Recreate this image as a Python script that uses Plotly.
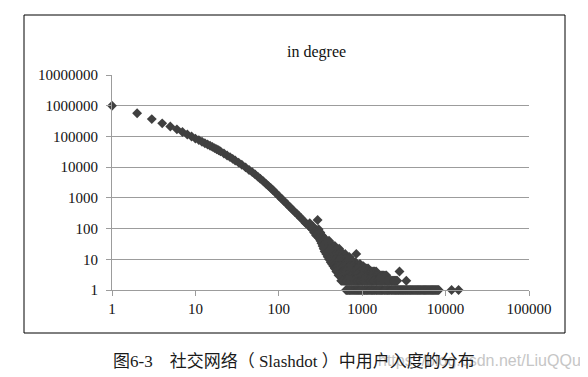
import plotly.graph_objects as go

# ---- data ----
main_k = [1, 2, 3, 4, 5, 6, 7, 8, 9, 10, 11, 12, 13, 14, 15, 16, 17, 18, 19, 20,
          22, 24, 26, 28, 30, 33, 36, 40, 44, 48, 52, 56, 60, 65, 70, 75, 80, 86, 92, 100,
          108, 116, 125, 135, 145, 155, 165, 175, 185, 200]
main_c = [1000000, 570000, 366000, 267000, 210000, 170000, 140000, 116000, 99000, 85000,
          76000, 67000, 60000, 54500, 49800, 45500, 41600, 38300, 35500, 32500,
          27900, 24000, 21200, 18600, 16500, 14000, 12000, 9800, 8100, 6900,
          5800, 4900, 4200, 3500, 2900, 2450, 2100, 1730, 1450, 1150,
          935, 770, 630, 510, 420, 350, 300, 255, 218, 177]

tail_counts = [150, 120, 95, 75, 60, 50, 40, 33, 27, 22, 18, 15, 12, 10, 8, 7, 6, 5, 4, 3, 2, 1]
tail_k_rows = [
    [210, 235],
    [230, 255],
    [250, 275, 300],
    [265, 290, 315],
    [280, 305, 330],
    [300, 325, 350],
    [315, 340, 370, 400],
    [325, 355, 385, 420],
    [335, 365, 400, 435, 470],
    [345, 375, 410, 450, 490, 530],
    [355, 390, 425, 465, 510, 555],
    [370, 405, 440, 480, 525, 575, 625],
    [385, 420, 460, 500, 545, 595, 650, 700],
    [400, 440, 480, 525, 575, 625, 680, 740],
    [420, 460, 500, 545, 595, 650, 710, 770, 830],
    [435, 475, 520, 565, 615, 670, 730, 790, 860, 940],
    [450, 470, 490, 510, 530, 555, 575, 600, 625, 650, 675, 700, 730, 760, 790, 820, 850,
     885, 920, 955, 990, 1030],
    [470, 490, 510, 535, 555, 575, 600, 625, 650, 675, 700, 725, 755, 785, 815, 845, 875,
     910, 945, 980, 1020, 1060, 1100, 1140, 1180],
    [490, 510, 530, 550, 570, 590, 615, 640, 660, 685, 710, 740, 765, 795, 825, 855, 885,
     920, 950, 985, 1020, 1060, 1100, 1140, 1180, 1220, 1270, 1310, 1360, 1410, 1470],
    [520, 540, 560, 580, 600, 620, 645, 665, 690, 710, 735, 760, 790, 815, 845, 875, 905,
     935, 970, 1000, 1040, 1075, 1110, 1150, 1190, 1230, 1280, 1320, 1370, 1420, 1470,
     1520, 1570, 1630, 1690, 1750, 1810, 1880, 1950],
    [560, 575, 590, 605, 620, 635, 650, 670, 685, 700, 720, 740, 755, 775, 795, 815, 835,
     855, 880, 900, 925, 950, 975, 1000, 1025, 1050, 1080, 1110, 1140, 1170, 1200, 1230,
     1260, 1290, 1320, 1360, 1390, 1430, 1470, 1500, 1540, 1580, 1620, 1660, 1700, 1750,
     1790, 1840, 1890, 1940, 1990, 2040, 2090, 2140, 2200, 2260, 2320, 2380, 2440, 2500,
     2560, 2630],
    [640, 655, 670, 690, 705, 720, 740, 760, 780, 800, 820, 840, 860, 880, 905, 925, 950,
     975, 1000, 1020, 1050, 1070, 1100, 1130, 1150, 1180, 1210, 1240, 1270, 1300, 1330,
     1360, 1400, 1430, 1470, 1500, 1540, 1580, 1620, 1660, 1700, 1740, 1780, 1830, 1870,
     1920, 1970, 2010, 2060, 2110, 2160, 2220, 2270, 2330, 2390, 2450, 2510, 2570, 2630,
     2700, 2760, 2830, 2900, 2970, 3050, 3120, 3200, 3280, 3360, 3440, 3520, 3610, 3700,
     3790, 3880, 3980, 4080, 4180, 4280, 4390, 4500, 4610, 4720, 4840, 4960, 5080, 5210,
     5340, 5470, 5600, 5740, 5880, 6030, 6180, 6330, 6490, 6650, 6810, 6980, 7150, 7330,
     7510, 7700, 7890, 8080, 8280, 11800, 14300],
]
outlier_k = [292, 850, 2800, 3380]
outlier_c = [190, 15, 4, 2]

x_tick_vals = [1, 10, 100, 1000, 10000, 100000]
x_tick_text = ["1", "10", "100", "1000", "10000", "100000"]
y_tick_vals = [1, 10, 100, 1000, 10000, 100000, 1000000, 10000000]
y_tick_text = ["1", "10", "100", "1000", "10000", "100000", "1000000", "10000000"]

chart_title = "in degree"
caption = "图6-3\u3000社交网络（ Slashdot ）中用户入度的分布"
watermark = "https://blog.csdn.net/LiuQQu"

# ---- assemble ----
xs = list(main_k)
ys = list(main_c)
for cnt, row in zip(tail_counts, tail_k_rows):
    xs.extend(row)
    ys.extend([cnt] * len(row))
xs.extend(outlier_k)
ys.extend(outlier_c)

OFF = 8                      # page body margin added by the browser
W, H = 588 - OFF, 377 - OFF  # figure size
L, R, T, B = 112 - OFF, 529 - OFF, 75 - OFF, 290 - OFF  # plot area (figure px)


def px_x(px):
    return (px - OFF - L) / (R - L)


def px_y(py):
    return (B - (py - OFF)) / (B - T)


AX = "#9c9c9c"
SERIF = "Liberation Serif, Times New Roman, serif"

fig = go.Figure()
fig.add_trace(go.Scatter(
    x=xs, y=ys, mode="markers", cliponaxis=False,
    marker=dict(symbol="diamond", size=7.6, color="#404040", line=dict(width=0)),
    showlegend=False, hoverinfo="skip",
))

fig.update_layout(
    width=W, height=H, autosize=False,
    margin=dict(l=L, r=W - R, t=T, b=H - B, pad=0),
    paper_bgcolor="white", plot_bgcolor="white",
    font=dict(family=SERIF, size=15, color="#111111"),
    xaxis=dict(type="log", range=[0, 5], showgrid=False, zeroline=False,
               showline=True, linecolor=AX, linewidth=1,
               ticks="outside", ticklen=5, tickcolor=AX, tickwidth=1,
               tickmode="array", tickvals=x_tick_vals, ticktext=x_tick_text,
               tickfont=dict(family=SERIF, size=15, color="#111111")),
    yaxis=dict(type="log", range=[0, 7], showgrid=True, gridcolor=AX, gridwidth=1,
               zeroline=False, showline=True, linecolor=AX, linewidth=1,
               ticks="outside", ticklen=5, tickcolor=AX, tickwidth=1,
               ticklabelstandoff=5,
               tickmode="array", tickvals=y_tick_vals, ticktext=y_tick_text,
               tickfont=dict(family=SERIF, size=15, color="#111111")),
)

fig.add_shape(type="rect", xref="paper", yref="paper",
              x0=px_x(24), x1=px_x(565), y0=px_y(333), y1=px_y(15),
              line=dict(color="#000000", width=1), fillcolor="rgba(0,0,0,0)", layer="above")

fig.add_annotation(text=chart_title, xref="paper", yref="paper",
                   x=px_x(316), y=px_y(52), xanchor="center", yanchor="middle",
                   showarrow=False, font=dict(family=SERIF, size=16, color="#111111"))

fig.add_annotation(text=watermark, xref="paper", yref="paper",
                   x=px_x(583), y=px_y(360), xanchor="right", yanchor="middle",
                   showarrow=False,
                   font=dict(family="Liberation Sans, Arial, sans-serif", size=16, color="#c6c6c6"))

fig.add_annotation(text=caption, xref="paper", yref="paper",
                   x=px_x(111), y=px_y(361), xanchor="left", yanchor="middle",
                   showarrow=False,
                   font=dict(family="Liberation Serif, Noto Sans CJK SC", size=17, color="#1a1a1a"))

fig.write_html("out.html")
